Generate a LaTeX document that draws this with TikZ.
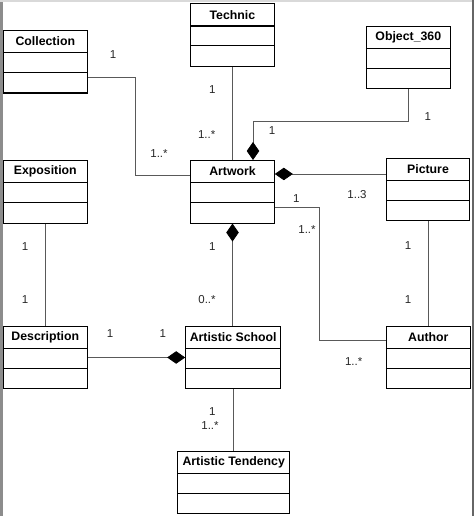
\documentclass[tikz,border=0pt]{standalone}
\usepackage{fontspec}
\setmainfont{Liberation Sans}
\usetikzlibrary{arrows.meta,calc}
\tikzset{
  cls/.style={draw=black, line width=1.05pt, fill=white, inner sep=0pt},
  clsline/.style={draw=black, line width=1.05pt},
  conn/.style={draw=black!65, line width=0.8pt},
  comp/.style={-{Diamond[length=18pt,width=12.5pt,color=black,fill=black]}},
  compstart/.style={{Diamond[length=18pt,width=12.5pt,color=black,fill=black]}-},
  lbl/.style={font=\fontsize{11.5}{12}\selectfont, inner sep=0pt, text=black!85},
  ttl/.style={font=\bfseries\fontsize{12.3}{13}\selectfont, inner sep=0pt}
}
\newcommand{\umlclass}[5]{%
  \node[cls, minimum width=#4pt, minimum height=62.5pt, anchor=north] (#1) at (#2,#3) {};
  \node[ttl] (#1-t) at ([yshift=-11.4pt]#1.north) {#5};
  \draw[clsline] ([yshift=-22.7pt]#1.north west) -- ([yshift=-22.7pt]#1.north east);
  \draw[clsline] ([yshift=-42.5pt]#1.north west) -- ([yshift=-42.5pt]#1.north east);
}
\begin{document}
\begin{tikzpicture}[x=1pt,y=-1pt]
\useasboundingbox (0,0) rectangle (474,516);
\fill[white] (0,0) rectangle (474,516);
% frame edges
\fill[black!45] (0,0) rectangle (2.5,516);
\fill[black!15] (0,0) rectangle (474,2.3);
\fill[black!60] (472.3,0) rectangle (474,516);

% classes
\umlclass{coll}{45.3}{30}{84}{Collection}
\umlclass{tech}{232.4}{3.3}{83.3}{Technic}
\umlclass{obj}{408.3}{25.7}{84}{Object\_360}
\umlclass{expo}{45.3}{160}{84}{Exposition}
\umlclass{art}{232.5}{160}{83.6}{Artwork}
\umlclass{pic}{428}{157.7}{83.4}{Picture}
\umlclass{desc}{45.3}{325.7}{84}{Description}
\umlclass{school}{233.2}{325.7}{95}{Artistic School}
\umlclass{auth}{428.3}{325.7}{84}{Author}
\umlclass{tend}{233.7}{450.7}{112}{Artistic Tendency}

% connector bend points
\coordinate (b1) at (135.3,175.3);
\coordinate (b2) at (253,121.7);
\coordinate (b3) at (319.7,340.7);
\coordinate (pa) at ([yshift=15.5pt]pic.west);
\coordinate (ca) at ([yshift=-15.6pt]coll.east);
\coordinate (aa) at ([yshift=-15.8pt]art.east);

% connectors
\draw[conn] (ca) -| (b1) -- (b1 -| art.west);
\draw[conn] (tech.south) -- (tech.south |- art.north);
\draw[conn,comp] (obj.south) |- (b2) -- (b2 |- art.north);
\draw[conn,compstart] (pa -| art.east) -- (pa);
\draw[conn] (aa) -| (b3) -- (b3 -| auth.west);
\draw[conn] (pic.south) -- (pic.south |- auth.north);
\draw[conn,compstart] (art.south) -- (art.south |- school.north);
\draw[conn] (expo.south) -- (desc.north);
\draw[conn,comp] (desc.east) -- (desc.east -| school.west);
\draw[conn] (school.south) -- (school.south |- tend.north);

% multiplicities
\node[lbl] (l1) at (113,54.5) {1};
\node[lbl] (l2) at (159,153.3) {1..*};
\node[lbl] (l3) at (212.3,90) {1};
\node[lbl] (l4) at (206.7,135) {1..*};
\node[lbl] (l5) at (427.7,116.7) {1};
\node[lbl] (l6) at (272,130.7) {1};
\node[lbl] (l7) at (357,195) {1..3};
\node[lbl] (l8) at (296.3,199) {1};
\node[lbl] (l9) at (307,230) {1..*};
\node[lbl] (l10) at (353.7,361.7) {1..*};
\node[lbl] (l11) at (408,246) {1};
\node[lbl] (l12) at (408,300) {1};
\node[lbl] (l13) at (212.3,246.7) {1};
\node[lbl] (l14) at (207,300) {0..*};
\node[lbl] (l15) at (25,246.7) {1};
\node[lbl] (l16) at (25,300) {1};
\node[lbl] (l17) at (110,334) {1};
\node[lbl] (l18) at (162.7,334) {1};
\node[lbl] (l19) at (212.3,411.7) {1};
\node[lbl] (l20) at (210,425.7) {1..*};
\end{tikzpicture}
\end{document}
